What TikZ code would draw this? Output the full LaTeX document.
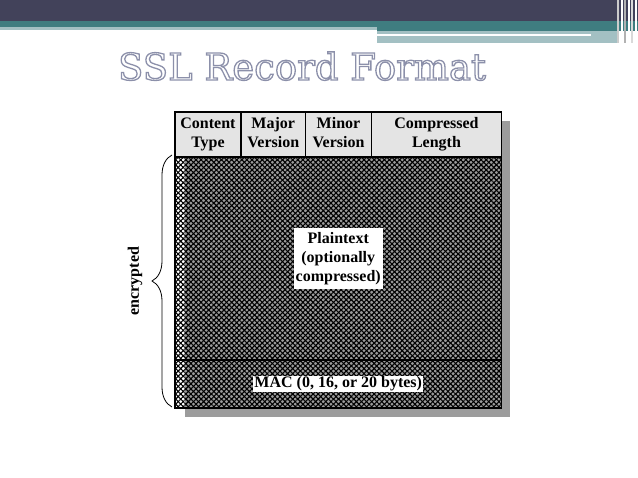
\documentclass[tikz,border=0pt]{standalone}
\usepackage{fontspec}
\setmainfont{Liberation Serif}
\newfontfamily\titlefont{DejaVu Serif}
\usetikzlibrary{positioning, patterns.meta, decorations.pathreplacing}

\definecolor{bardark}{HTML}{42425A}
\definecolor{barteal}{HTML}{3F7D80}
\definecolor{barlight}{HTML}{A3C0C3}
\definecolor{headgray}{HTML}{E4E4E4}
\definecolor{shadowgray}{HTML}{9C9C9C}

% outlined letters for the title
\newcommand{\outlinetext}[1]{\special{pdf:literal direct 1 Tr 1.3 w 0.55 0.565 0.667 RG}#1\special{pdf:literal direct 0 Tr}}

\tikzset{
  field/.style={draw, line width=1.3pt, fill=headgray, inner sep=0pt, outer sep=0pt,
    minimum height=45pt, align=center, font=\bfseries\fontsize{16}{19}\selectfont},
  hatch/.style={draw, line width=1.3pt, inner sep=0pt, outer sep=0pt,
    pattern={Lines[angle=45,distance=3.6pt,line width=1.1pt]},
    preaction={pattern={Lines[angle=-45,distance=3.6pt,line width=1.1pt]}}},
  tag/.style={fill=white, inner sep=2pt, align=center, font=\bfseries\fontsize{16}{19}\selectfont},
  titletext/.style={anchor=base, font=\titlefont\fontsize{37}{44}\selectfont}
}

\begin{document}
\begin{tikzpicture}[x=1pt, y=-1pt]
  \useasboundingbox (0,0) rectangle (638,478);

  % slide banner
  \fill[bardark] (0,0) rectangle (638,21);
  \fill[barteal] (0,21) rectangle (638,27);
  \fill[barlight] (0,27) rectangle (377,30);
  \fill[barlight] (377,31) rectangle (617,43);
  \fill[barteal] (377,27) rectangle (638,31);
  \fill[white] (377,34) rectangle (591,36);
  \foreach \x/\c in {617/gray!40, 621/white, 624/gray!60, 628/white, 631/gray!30, 635/white}
    \fill[\c] (\x,0) rectangle ++(2,43);

  % title
  \node[titletext] (title) at (302,80) {\outlinetext{SSL Record Format}};

  % drop shadow
  \fill[shadowgray] (185,121) rectangle (510,417);

  % header fields
  \node[field, minimum width=66pt] (ctype) at (208,134.5) {\strut Content\\Type\strut};
  \node[field, minimum width=64.5pt, right=0pt of ctype] (major) {\strut Major\\Version\strut};
  \node[field, minimum width=66pt, right=0pt of major] (minor) {\strut Minor\\Version\strut};
  \node[field, minimum width=130pt, right=0pt of minor] (clen) {\strut Compressed\\Length\strut};

  % payload and MAC
  \node[hatch, minimum width=326.5pt, minimum height=203pt, anchor=north west] (body) at (ctype.south west) {};
  \node[hatch, minimum width=326.5pt, minimum height=48pt, anchor=north] (mac) at (body.south) {};
  \node[tag] (plain) at (body.center) {\strut Plaintext\\(optionally\\compressed)\strut};
  \node[tag, inner sep=1pt] (maclabel) at (mac.center) {MAC (0, 16, or 20 bytes)};

  % encrypted part
  \coordinate (encbot) at (172,407);
  \coordinate (enctop) at (172,155);
  \draw[decorate, decoration={brace, amplitude=20pt}, line width=0.8pt] (encbot) -- (enctop);
  \node[rotate=90, font=\bfseries\fontsize{16}{19}\selectfont] (enc) at (135,281) {encrypted};

\end{tikzpicture}
\end{document}
